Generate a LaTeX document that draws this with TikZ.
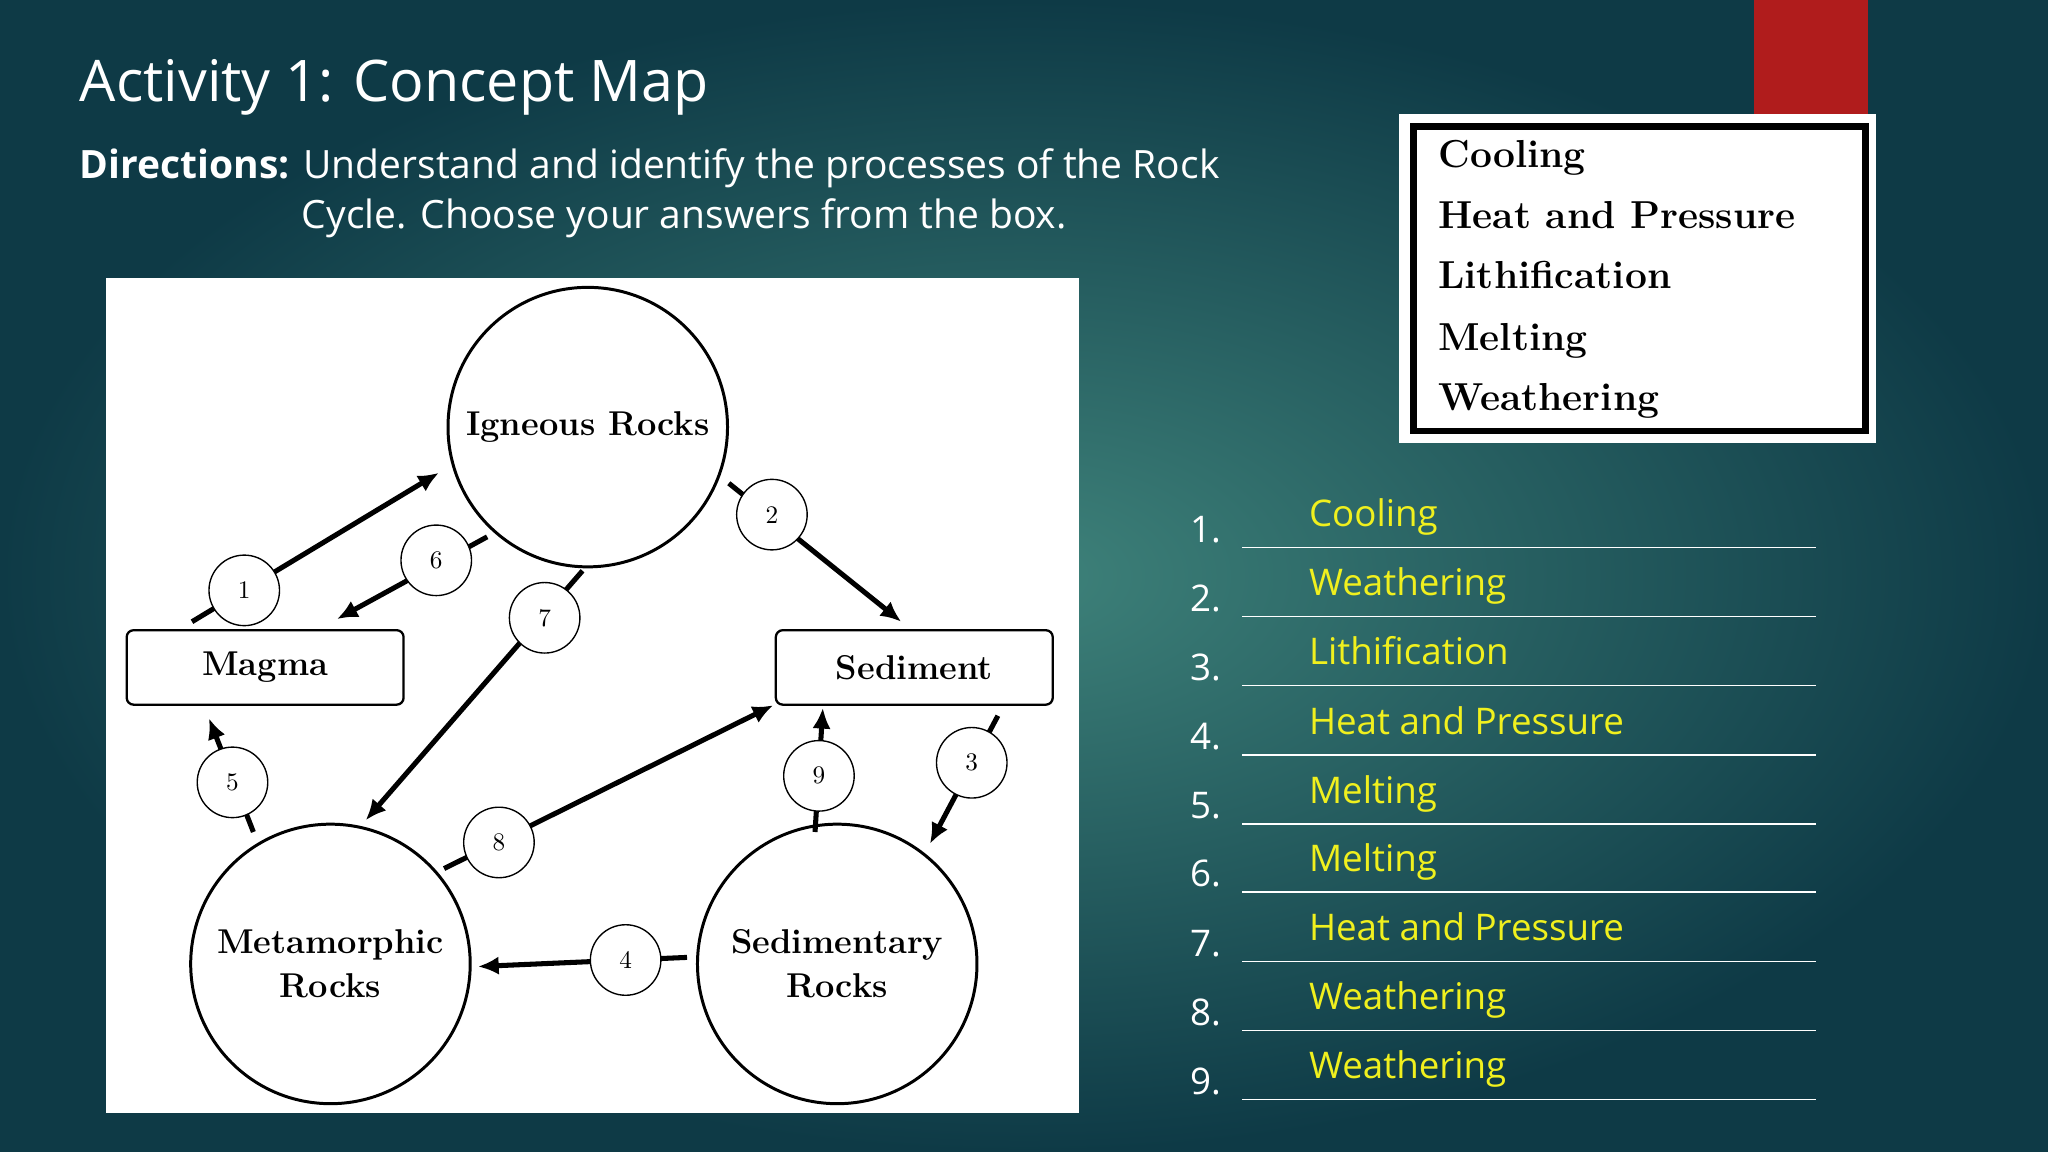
\documentclass[tikz,border=0pt]{standalone}
\usepackage{fontspec}
\usetikzlibrary{arrows.meta}
\setmainfont{Open Sans}
\newfontfamily\lm{Latin Modern Roman}
\definecolor{bgin}{RGB}{62,130,122}
\definecolor{bgout}{RGB}{14,58,70}
\definecolor{redbar}{RGB}{176,28,28}
\definecolor{ansy}{RGB}{240,240,30}
\begin{document}
\begin{tikzpicture}[x=0.02cm,y=-0.02cm,
 big/.style={circle,draw,line width=1.3pt,minimum size=214*0.02cm,inner sep=0pt,align=center,font=\lm\bfseries\fontsize{15}{19}\selectfont},
 box/.style={rectangle,rounded corners=3pt,draw,line width=1pt,minimum width=212*0.02cm,minimum height=57*0.02cm,font=\lm\bfseries\fontsize{15}{15}\selectfont},
 num/.style={circle,draw,fill=white,line width=0.6pt,minimum size=54*0.02cm,inner sep=0pt,font=\lm\fontsize{11}{11}\selectfont},
 arr/.style={line width=2.2pt,-{Latex[length=9pt,width=8pt]}},
 ans/.style={anchor=base west,text=ansy,font=\fontsize{16}{16}\selectfont},
 idx/.style={anchor=base west,text=white,font=\fontsize{16}{16}\selectfont}]
\useasboundingbox (0,0) rectangle (1568,882);
\shade[inner color=bgin,outer color=bgout] (0,0) rectangle (1568,882);
\fill[redbar] (1343,0) rectangle (1430,87);
\node[anchor=base west,text=white,font=\fontsize{25}{25}\selectfont] (title) at (55,78) {Activity 1: Concept Map};
\node[anchor=base west,text=white,font=\fontsize{17}{17}\selectfont] (dir1) at (55,137) {\textbf{Directions:} Understand and identify the processes of the Rock};
\node[anchor=base west,text=white,font=\fontsize{17}{17}\selectfont] (dir2) at (225,175) {Cycle. Choose your answers from the box.};
\fill[white] (81,213) rectangle (826,852);
\node[big] (ign) at (450,327) {Igneous Rocks};
\node[big] (met) at (253,738) {Metamorphic\\Rocks};
\node[big] (sed) at (641,738) {Sedimentary\\Rocks};
\node[box] (mag) at (203,511) {Magma};
\node[box] (smt) at (700,511) {Sediment};
\coordinate (a1) at (147,476); \coordinate (b1) at (336,362);
\coordinate (a6) at (373,411); \coordinate (b6) at (258,474);
\coordinate (a2) at (558,370); \coordinate (b2) at (690,476);
\coordinate (a7) at (446,437); \coordinate (b7) at (280,628);
\coordinate (a5) at (194,637); \coordinate (b5) at (160,550);
\coordinate (a9) at (624,637); \coordinate (b9) at (630,542);
\coordinate (a3) at (764,548); \coordinate (b3) at (712,646);
\coordinate (a8) at (340,665); \coordinate (b8) at (592,540);
\coordinate (a4) at (526,733); \coordinate (b4) at (366,740);
\foreach \i in {1,6,2,7,5,9,3,8,4} {\draw[arr] (a\i) -- (b\i);}
\node[num] (n1) at (187,452) {1};
\node[num] (n6) at (334,429) {6};
\node[num] (n2) at (591,394) {2};
\node[num] (n7) at (417,473) {7};
\node[num] (n5) at (178,599) {5};
\node[num] (n9) at (627,594) {9};
\node[num] (n3) at (744,584) {3};
\node[num] (n8) at (382,645) {8};
\node[num] (n4) at (479,735) {4};
\fill[white] (1071,87) rectangle (1436,339);
\draw[line width=3pt] (1082,97) rectangle (1428,330);
\foreach \w/\y [count=\k] in {Cooling/128,Heat and Pressure/175,Lithification/221,Melting/268,Weathering/314}
 {\node[anchor=base west,font=\lm\bfseries\fontsize{17}{17}\selectfont] (w\k) at (1095,\y) {\w};}
\foreach \w/\y [count=\k] in {Cooling/406,Weathering/459,Lithification/512,Heat and Pressure/565,Melting/618,Melting/670,Heat and Pressure/723,Weathering/776,Weathering/829}
 {\node[idx] (i\k) at (905,\y+9) {\k.};
  \draw[white,line width=0.6pt] (951,\y+13) -- (1390,\y+13);
  \node[ans] (t\k) at (996,\y-3) {\w};}
\end{tikzpicture}
\end{document}
